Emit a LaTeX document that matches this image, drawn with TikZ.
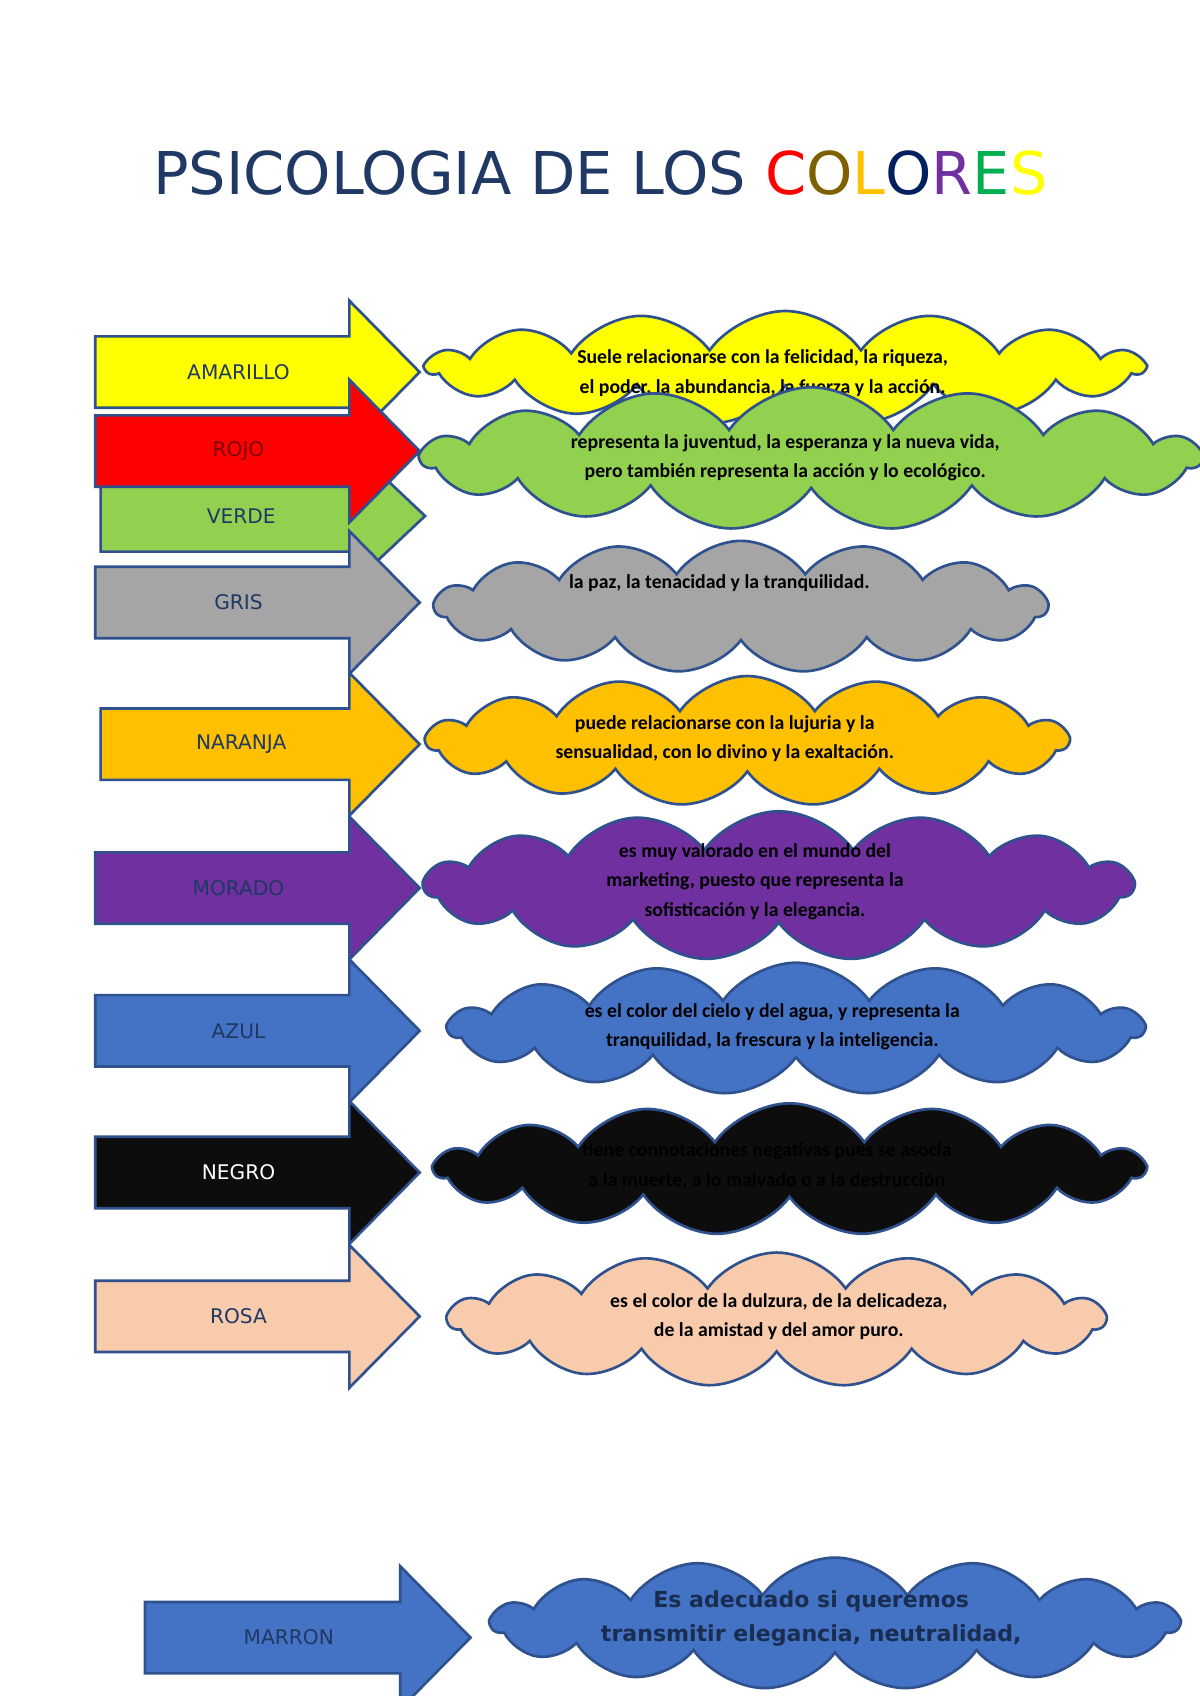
\documentclass[tikz,border=0pt]{standalone}
\usepackage{fontspec}
\setmainfont{DejaVu Sans}
\newfontfamily\cloudfont{Carlito}
\newfontfamily\marronfont{DejaVu Sans}
\usetikzlibrary{shapes.symbols}
\definecolor{edge}{HTML}{2F528F}
\definecolor{cyellow}{HTML}{FFFF00}
\definecolor{cred}{HTML}{FF0000}
\definecolor{cgreen}{HTML}{92D050}
\definecolor{cgrey}{HTML}{A5A5A5}
\definecolor{corange}{HTML}{FFC000}
\definecolor{cpurple}{HTML}{7030A0}
\definecolor{cblue}{HTML}{4472C4}
\definecolor{cblack}{HTML}{0D0D0D}
\definecolor{cpink}{HTML}{F8CBAD}
\definecolor{navy}{HTML}{1F3864}
\tikzset{
 arrowsty/.style={draw=edge,line width=0.7pt,line join=miter},
 lab/.style={font=\fontsize{5.3pt}{6pt}\selectfont,text=navy},
 cloudsty/.style={cloud,cloud puffs=15,cloud puff arc=110,draw=edge,line width=0.7pt,inner sep=0pt},
 ctext/.style={font=\cloudfont\bfseries\fontsize{5.2pt}{7.7pt}\selectfont,align=center}
}
% name, yc, xleft, fill, label, textcolor, headx, tipx
\newcommand\colarrow[8]{%
\draw[arrowsty,fill=#4] (#3,#2-33) -- (#7,#2-33) -- (#7,#2-66) -- (#8,#2) -- (#7,#2+66) -- (#7,#2+33) -- (#3,#2+33) -- cycle;
\node[lab,text=#6] (#1) at ({(#3+#7)/2+15},#2) {#5};}
% name, cx, cy, w, h, fill
\newcommand\colcloud[6]{%
\node[cloudsty,fill=#6,minimum width=#4*0.01cm,minimum height=#5*0.01cm,cloud ignores aspect] (#1) at (#2,#3) {};}
\begin{document}
\begin{tikzpicture}[x=0.01cm,y=-0.01cm]
\useasboundingbox[fill=white] (0,0) rectangle (1109,1568);
\node[font=\fontsize{15.5pt}{18pt}\selectfont,text=navy] (title) at (555,160) {PSICOLOGIA DE LOS \textcolor{cred}{C}\textcolor[HTML]{7F6000}{O}\textcolor[HTML]{FFC000}{L}\textcolor[HTML]{002060}{O}\textcolor{cpurple}{R}\textcolor[HTML]{00B050}{E}\textcolor{cyellow}{S}};

\colarrow{amarillo}{344}{88}{cyellow}{AMARILLO}{navy}{323}{388}
\colarrow{verde}{477}{93}{cgreen}{VERDE}{navy}{323}{393}
\colarrow{rojo}{417}{88}{cred}{ROJO}{red!50!black}{323}{388}
\colarrow{gris}{557}{88}{cgrey}{GRIS}{navy}{323}{388}
\colarrow{naranja}{688}{93}{corange}{NARANJA}{navy}{323}{388}
\colarrow{morado}{821}{88}{cpurple}{MORADO}{navy}{323}{388}
\colarrow{azul}{953}{88}{cblue}{AZUL}{navy}{323}{388}
\colarrow{negro}{1084}{88}{cblack}{NEGRO}{white}{323}{388}
\colarrow{rosa}{1217}{88}{cpink}{ROSA}{navy}{323}{388}
\colarrow{marron}{1514}{134}{cblue}{MARRON}{navy}{370}{435}

\colcloud{c1}{726}{340}{662}{105}{cyellow}
\node[ctext] (t1) at (705,345) {Suele relacionarse con la felicidad, la riqueza,\\el poder, la abundancia, la fuerza y la acción.};
\colcloud{c2}{750}{424}{720}{132}{cgreen}
\node[ctext] (t2) at (726,423) {representa la juventud, la esperanza y la nueva vida,\\pero también representa la acción y lo ecológico.};
\colcloud{c3}{685}{561}{566}{122}{cgrey}
\node[ctext] (t3) at (665,539) {la paz, la tenacidad y la tranquilidad.};
\colcloud{c4}{691}{685}{593}{120}{corange}
\node[ctext] (t4) at (670,683) {puede relacionarse con la lujuria y la\\sensualidad, con lo divino y la exaltación.};
\colcloud{c5}{720}{819}{655}{138}{cpurple}
\node[ctext] (t5) at (698,815) {es muy valorado en el mundo del\\marketing, puesto que representa la\\sofisticación y la elegancia.};
\colcloud{c6}{736}{951}{642}{122}{cblue}
\node[ctext] (t6) at (714,949) {es el color del cielo y del agua, y representa la\\tranquilidad, la frescura y la inteligencia.};
\colcloud{c7}{730}{1081}{656}{122}{cblack}
\node[ctext] (t7) at (709,1078) {tiene connotaciones negativas pues se asocia\\a la muerte, a lo malvado o a la destrucción};
\colcloud{c8}{718}{1220}{607}{124}{cpink}
\node[ctext] (t8) at (720,1217) {es el color de la dulzura, de la delicadeza,\\de la amistad y del amor puro.};
\colcloud{c9}{772}{1501}{635}{122}{cblue}
\node[font=\marronfont\bfseries\fontsize{5.8pt}{9pt}\selectfont,align=center,text=navy!80!black] (t9) at (750,1496) {Es adecuado si queremos\\transmitir elegancia, neutralidad,};
\end{tikzpicture}
\end{document}
